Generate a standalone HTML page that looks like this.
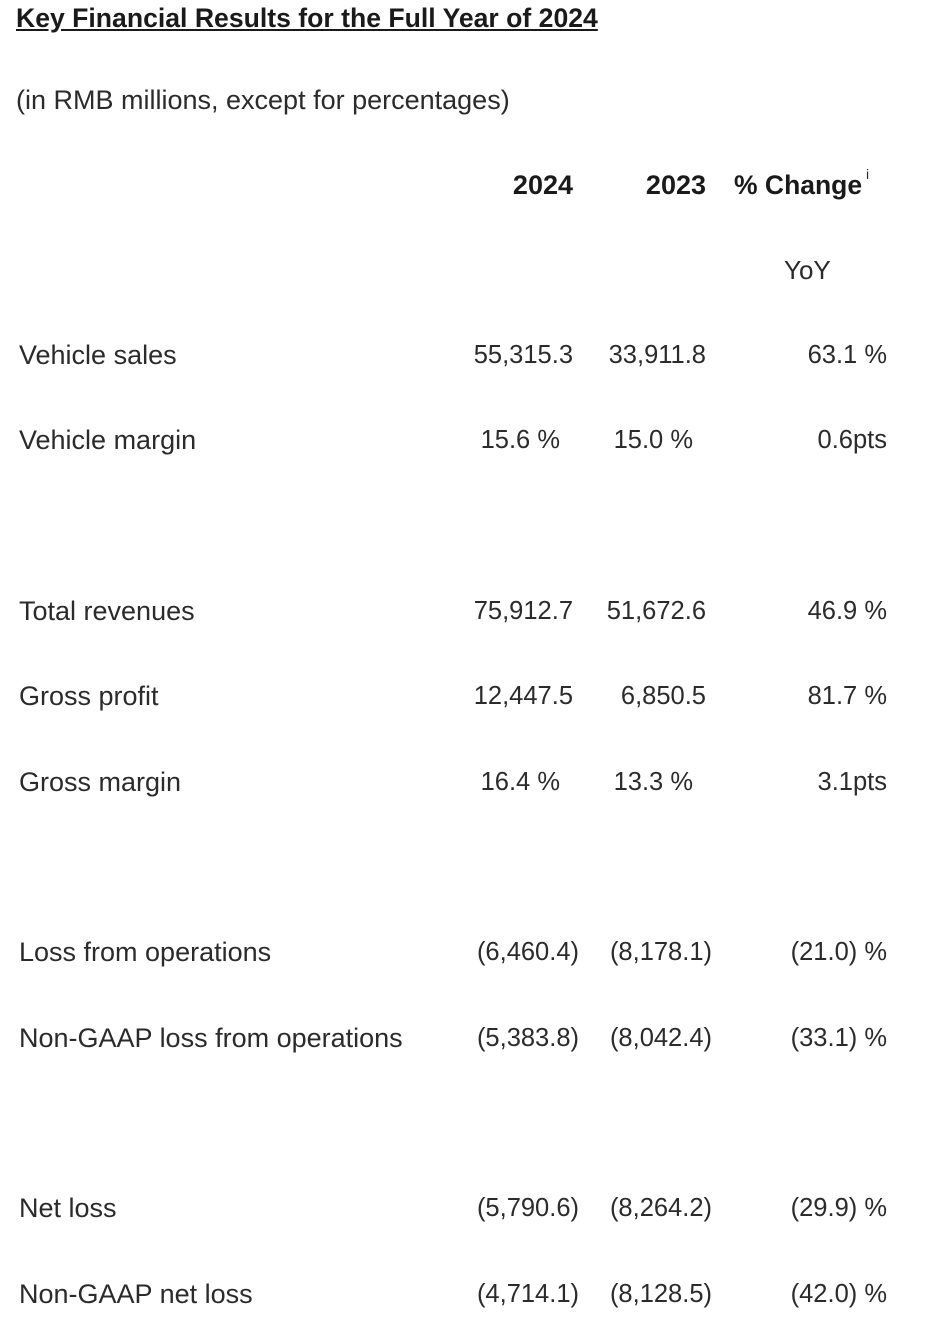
<!DOCTYPE html>
<html>
<head>
<meta charset="utf-8">
<style>
  html,body{margin:0;padding:0;background:#fff;}
  body{width:928px;height:1344px;position:relative;overflow:hidden;
       font-family:"Liberation Sans",sans-serif;color:#2b2b2b;}
  .t{position:absolute;font-size:24px;line-height:30px;white-space:nowrap;}
  .lab{font-size:27px;}
  .num{font-size:25.5px;}
  .r{text-align:right;}
  .b{font-weight:bold;color:#1a1a1a;}
</style>
</head>
<body>
  <div class="t b" style="left:16px;top:3px;font-size:26.6px;text-decoration:underline;">Key Financial Results for the Full Year of 2024</div>
  <div class="t" style="left:16px;top:85px;font-size:27px;">(in RMB millions, except for percentages)</div>

  <div class="t b r" style="right:355px;top:170px;font-size:27px;">2024</div>
  <div class="t b r" style="right:222px;top:170px;font-size:27px;">2023</div>
  <div class="t b" style="left:734px;top:170px;font-size:26.5px;">% Change</div>
  <div class="t" style="left:866px;top:166px;font-size:14px;line-height:16px;">i</div>
  <div class="t" style="left:784px;top:255px;font-size:26px;">YoY</div>

  <div id="rows"></div>

<script>
const labels = ["Vehicle sales","Vehicle margin","Total revenues","Gross profit","Gross margin","Loss from operations","Non-GAAP loss from operations","Net loss","Non-GAAP net loss"];
const v2024 = ["55,315.3","15.6 %","75,912.7","12,447.5","16.4 %","(6,460.4)","(5,383.8)","(5,790.6)","(4,714.1)"];
const v2023 = ["33,911.8","15.0 %","51,672.6","6,850.5","13.3 %","(8,178.1)","(8,042.4)","(8,264.2)","(8,128.5)"];
const changes = ["63.1 %","0.6pts","46.9 %","81.7 %","3.1pts","(21.0) %","(33.1) %","(29.9) %","(42.0) %"];
const rowY = [355,440,611,696,782,952,1038,1208,1294];

const host = document.getElementById('rows');
function right(v, base){
  if (v.indexOf('(')===0) return base+6;
  if (v.indexOf('%')>0) return base-13;
  return base;
}
function cell(text, left, rightEdge, y, name, cls){
  const d = document.createElement('div');
  d.className = 't ' + cls + (rightEdge!==null ? ' r' : '');
  d.textContent = text;
  d.style.top = (y-15)+'px';
  if (rightEdge!==null) d.style.right = (928-rightEdge)+'px'; else d.style.left = left+'px';
  
  
  host.appendChild(d);
}
labels.forEach((l,i)=>{
  const y = rowY[i];
  cell(l, 19, null, y, 'row-label', 'lab');
  cell(v2024[i], 0, right(v2024[i],573), y, 'value-2024', 'num');
  cell(v2023[i], 0, right(v2023[i],706), y, 'value-2023', 'num');
  cell(changes[i], 0, 887, y, 'value-change', 'num');
});
</script>
</body>
</html>
